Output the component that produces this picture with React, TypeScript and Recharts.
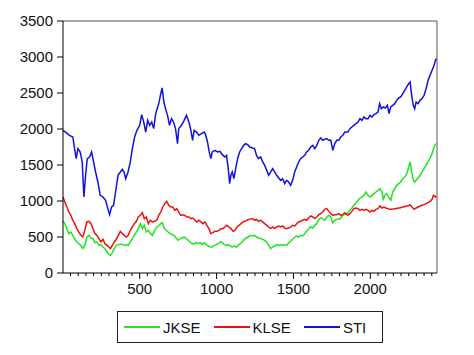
import { LineChart, Line, XAxis, YAxis, Legend, ReferenceLine } from 'recharts';

// observation number, index level
const jkse: [number, number][] = [
    [1, 718], [13, 685], [26, 616], [39, 546], [52, 569], [65, 523], [78, 468], [91, 431], [104, 407],
    [117, 384], [130, 338], [143, 384], [156, 500], [170, 523], [183, 486], [196, 477], [209, 421],
    [222, 431], [235, 384], [248, 394], [261, 361], [274, 338], [287, 292], [300, 255], [309, 245],
    [322, 282], [335, 338], [348, 384], [361, 394], [374, 403], [387, 394], [400, 384], [413, 394],
    [426, 384], [439, 431], [452, 477], [465, 523], [478, 569], [491, 616], [504, 685], [517, 616],
    [530, 662], [543, 569], [556, 593], [569, 546], [582, 523], [598, 593],
    [611, 639], [624, 653], [637, 685], [646, 699], [659, 625], [672, 593], [685, 569], [698, 546],
    [711, 532], [724, 523], [737, 486], [750, 454], [763, 477], [776, 486], [789, 500], [802, 486],
    [815, 454], [828, 431], [841, 407], [854, 407], [867, 421], [880, 407], [894, 421], [907, 394],
    [920, 421], [933, 394], [946, 375], [959, 361], [972, 361], [985, 384], [998, 394], [1011, 407],
    [1024, 431], [1037, 421], [1050, 394], [1063, 384], [1076, 394], [1089, 375], [1102, 361],
    [1115, 375], [1128, 361], [1141, 384], [1154, 407], [1167, 431], [1180, 468], [1193, 486],
    [1206, 500], [1219, 523],
    [1234, 514], [1247, 523], [1260, 500], [1273, 486], [1287, 477], [1300, 468], [1313, 454],
    [1326, 431], [1339, 384], [1352, 338], [1365, 361], [1378, 375], [1391, 394], [1404, 384],
    [1417, 394], [1430, 384], [1443, 394], [1456, 384], [1469, 421], [1482, 440], [1495, 468],
    [1508, 500], [1521, 514], [1534, 500], [1547, 523], [1560, 514], [1573, 546], [1586, 579],
    [1599, 616], [1612, 639], [1626, 625], [1639, 662], [1652, 685], [1665, 745], [1678, 764],
    [1691, 755], [1704, 732], [1717, 778], [1730, 801], [1743, 778], [1756, 699], [1769, 732],
    [1782, 745], [1795, 745], [1808, 764], [1821, 801], [1834, 810],
    [1854, 838], [1867, 870], [1880, 903], [1893, 940], [1907, 977], [1920, 1009], [1933, 1042],
    [1946, 1056], [1959, 1079], [1972, 1125], [1985, 1079], [1998, 1056], [2011, 1079], [2024, 1102],
    [2037, 1125], [2050, 1148], [2063, 1171], [2076, 1125], [2085, 1009], [2093, 1079], [2106, 1102],
    [2119, 1056], [2133, 1009], [2146, 1125], [2159, 1171], [2172, 1218], [2185, 1241], [2198, 1264],
    [2211, 1310], [2224, 1333], [2237, 1380], [2250, 1472], [2259, 1542], [2269, 1403], [2280, 1287],
    [2289, 1264], [2298, 1287], [2311, 1320], [2324, 1357], [2337, 1403], [2350, 1449], [2363, 1495],
    [2376, 1542], [2389, 1597], [2402, 1658], [2411, 1727], [2419, 1773], [2430, 1797],
];

const klse: [number, number][] = [
    [1, 1056], [13, 986], [26, 917], [39, 847], [52, 801], [65, 732], [78, 685], [91, 616], [104, 569],
    [117, 523], [130, 500], [143, 593], [156, 709], [170, 718], [183, 685], [196, 616], [209, 546],
    [222, 523], [235, 477], [248, 431], [261, 468], [274, 407], [287, 384], [300, 361], [309, 338],
    [322, 384], [335, 431], [348, 468], [361, 523], [374, 579], [387, 546], [400, 523], [413, 500],
    [426, 523], [439, 593], [452, 639], [465, 685], [478, 718], [491, 778], [504, 801], [517, 838],
    [530, 755], [543, 778], [556, 685], [569, 732], [582, 709], [598, 718],
    [611, 732], [624, 801], [637, 847], [650, 917], [663, 963], [676, 995], [689, 940], [702, 917],
    [715, 917], [728, 870], [741, 894], [754, 847], [767, 801], [781, 810], [794, 801], [807, 778],
    [820, 778], [833, 755], [846, 764], [859, 732], [872, 709], [885, 732], [898, 709], [911, 685],
    [924, 709], [937, 662], [950, 616], [963, 546], [976, 560], [989, 579], [1002, 579], [1015, 593],
    [1028, 616], [1041, 616], [1054, 639], [1067, 662], [1080, 639], [1093, 616], [1107, 579],
    [1120, 593], [1133, 639], [1146, 662], [1159, 685], [1172, 709], [1185, 718], [1198, 732],
    [1211, 745],
    [1234, 755], [1247, 732], [1260, 745], [1273, 718], [1287, 732], [1300, 709], [1313, 685],
    [1326, 662], [1339, 639], [1352, 616], [1365, 639], [1378, 616], [1391, 639], [1404, 653],
    [1417, 639], [1430, 653], [1443, 625], [1456, 616], [1469, 625], [1482, 639], [1495, 662],
    [1508, 653], [1521, 685], [1534, 709], [1547, 718], [1560, 732], [1573, 745], [1586, 732],
    [1599, 764], [1612, 792], [1626, 778], [1639, 755], [1652, 778], [1665, 810], [1678, 824],
    [1691, 847], [1704, 884], [1717, 894], [1730, 856], [1743, 824], [1756, 801], [1769, 810],
    [1782, 810], [1795, 824], [1808, 801], [1821, 810], [1834, 838],
    [1854, 801], [1867, 824], [1880, 856], [1893, 894], [1907, 903], [1920, 894], [1933, 870],
    [1946, 884], [1959, 870], [1972, 884], [1985, 870], [1998, 847], [2011, 870], [2024, 856],
    [2037, 884], [2050, 894], [2063, 931], [2076, 903], [2089, 917], [2102, 903], [2115, 894],
    [2128, 884], [2141, 884], [2154, 894], [2167, 894], [2180, 903], [2193, 903], [2206, 917],
    [2219, 917], [2232, 931], [2245, 931], [2259, 949], [2272, 917], [2285, 884], [2298, 903],
    [2311, 917], [2324, 931], [2337, 940], [2350, 949], [2363, 963], [2376, 977], [2389, 995],
    [2402, 1023], [2411, 1079], [2424, 1056], [2430, 1070],
];

const sti: [number, number][] = [
    [1, 1982], [22, 1949], [43, 1912], [65, 1889], [76, 1727], [87, 1588], [98, 1727], [113, 1681],
    [126, 1542], [137, 1056], [148, 1357], [159, 1588], [174, 1611], [187, 1681], [200, 1542],
    [213, 1403], [228, 1264], [243, 1079], [261, 1056], [278, 1009], [293, 894], [304, 811],
    [317, 917], [330, 940], [343, 1125], [359, 1357], [374, 1403], [387, 1440], [398, 1403],
    [409, 1310], [424, 1403], [439, 1542], [452, 1727], [467, 1889], [482, 1982], [500, 2051],
    [513, 2199], [526, 2097], [539, 1958], [552, 2120], [565, 2051], [578, 2097], [591, 2005],
    [604, 2213],
    [624, 2352], [637, 2491], [646, 2570], [657, 2375], [668, 2283], [681, 2190], [694, 2051],
    [707, 2144], [720, 2097], [733, 2005], [746, 1797], [754, 2005], [772, 2051], [789, 2120],
    [804, 2190], [820, 2097], [833, 1982], [844, 1843], [854, 1982], [870, 1958], [885, 1912],
    [902, 1935], [920, 1958], [930, 1912], [941, 1820], [952, 1681], [963, 1588], [972, 1681],
    [989, 1704], [1007, 1681], [1022, 1690], [1037, 1644], [1054, 1611], [1065, 1634], [1076, 1449],
    [1085, 1241], [1093, 1357], [1102, 1403], [1113, 1310], [1124, 1449], [1137, 1588], [1150, 1681],
    [1163, 1727], [1176, 1773], [1189, 1797], [1202, 1783], [1217, 1750],
    [1234, 1736], [1247, 1727], [1260, 1634], [1273, 1588], [1287, 1611], [1300, 1542], [1313, 1495],
    [1326, 1426], [1339, 1357], [1352, 1403], [1365, 1449], [1378, 1403], [1391, 1357], [1404, 1320],
    [1417, 1287], [1430, 1310], [1443, 1241], [1456, 1287], [1469, 1264], [1482, 1218], [1495, 1287],
    [1508, 1403], [1521, 1472], [1534, 1542], [1547, 1588], [1560, 1611], [1573, 1634], [1586, 1681],
    [1599, 1704], [1612, 1750], [1626, 1773], [1639, 1727], [1652, 1773], [1665, 1843], [1678, 1875],
    [1691, 1843], [1704, 1857], [1717, 1866], [1730, 1843], [1743, 1843], [1756, 1704], [1769, 1797],
    [1782, 1843], [1795, 1843], [1808, 1889], [1821, 1912], [1834, 1958],
    [1854, 1958], [1867, 2005], [1880, 2028], [1893, 2051], [1907, 2074], [1920, 2097], [1933, 2144],
    [1946, 2120], [1959, 2167], [1972, 2144], [1985, 2144], [1998, 2190], [2011, 2167], [2024, 2199],
    [2037, 2213], [2050, 2236], [2061, 2352], [2072, 2283], [2085, 2306], [2098, 2292], [2111, 2329],
    [2122, 2213], [2133, 2306], [2146, 2329], [2159, 2352], [2172, 2398], [2185, 2431], [2198, 2445],
    [2211, 2491], [2224, 2537], [2237, 2584], [2250, 2630], [2259, 2653], [2269, 2468], [2280, 2329],
    [2289, 2283], [2298, 2375], [2311, 2352], [2324, 2398], [2337, 2422], [2350, 2468], [2363, 2560],
    [2376, 2676], [2389, 2746], [2402, 2815], [2415, 2884], [2424, 2954], [2430, 2977],
];

const yTicks = [0, 500, 1000, 1500, 2000, 2500, 3000, 3500];
const xTicks = [
    50, 100, 150, 200, 250, 300, 350, 400, 450, 500, 550, 600, 650, 700, 750, 800, 850, 900, 950, 1000,
    1050, 1100, 1150, 1200, 1250, 1300, 1350, 1400, 1450, 1500, 1550, 1600, 1650, 1700, 1750, 1800,
    1850, 1900, 1950, 2000, 2050, 2100, 2150, 2200, 2250, 2300, 2350, 2400,
];
const xMajor = [500, 1000, 1500, 2000];

const FONT = '"Liberation Sans", Arial, sans-serif';
const toRows = (pts: [number, number][]) => pts.map(([t, v]) => ({ t, v }));

function XTick({ x, y, payload }: any) {
    const major = xMajor.includes(payload.value);
    return (
        <g>
            <line x1={x} x2={x} y1={y} y2={y + (major ? 6 : 3)} stroke="#000" />
            {major && (
                <text x={x} y={y + 21} textAnchor="middle" fontSize={15} fontFamily={FONT} fill="#111">
                    {payload.value}
                </text>
            )}
        </g>
    );
}

function LegendBox({ payload }: any) {
    return (
        <div style={{
            width: 264, height: 30, border: '1px solid #222', display: 'flex', alignItems: 'center',
            fontFamily: FONT, fontSize: 15, color: '#111', boxSizing: 'content-box',
        }}>
            {(payload || []).map((p: any, i: number) => (
                <div key={p.value} style={{ display: 'flex', alignItems: 'center', marginLeft: i === 0 ? 6 : 13 }}>
                    <span style={{ display: 'inline-block', width: 36, height: 1.5, background: p.color }} />
                    <span style={{ marginLeft: 3 }}>{p.value}</span>
                </div>
            ))}
        </div>
    );
}

export default function App() {
    return (
        <div style={{ position: 'absolute', left: 0, top: 0, width: 474, height: 355, background: '#fff' }}>
            <LineChart width={474} height={355} margin={{ top: 21, right: 37, bottom: 52, left: 0 }}>
                <XAxis dataKey="t" type="number" domain={[1, 2434]} ticks={xTicks} interval={0}
                    allowDuplicatedCategory={false} tick={<XTick />} tickLine={false} tickSize={0} tickMargin={0}
                    axisLine={{ stroke: '#000' }} height={30} />
                <YAxis type="number" domain={[0, 3500]} ticks={yTicks} interval={0} width={63}
                    tickSize={6} tickMargin={4} axisLine={{ stroke: '#000' }} tickLine={{ stroke: '#000' }}
                    tick={{ fontSize: 15, fontFamily: FONT, fill: '#111' }} />
                <ReferenceLine y={3500} stroke="#555" />
                <ReferenceLine x={2434} stroke="#555" />
                <Legend layout="horizontal" verticalAlign="middle" align="center" content={<LegendBox />}
                    wrapperStyle={{ left: 117, top: 311, width: 266, height: 32 }} />
                <Line data={toRows(jkse)} dataKey="v" name="JKSE" stroke="#1fe61f" strokeWidth={1.5}
                    dot={false} isAnimationActive={false} />
                <Line data={toRows(klse)} dataKey="v" name="KLSE" stroke="#f01010" strokeWidth={1.5}
                    dot={false} isAnimationActive={false} />
                <Line data={toRows(sti)} dataKey="v" name="STI" stroke="#1010e0" strokeWidth={1.5}
                    dot={false} isAnimationActive={false} />
            </LineChart>
        </div>
    );
}
